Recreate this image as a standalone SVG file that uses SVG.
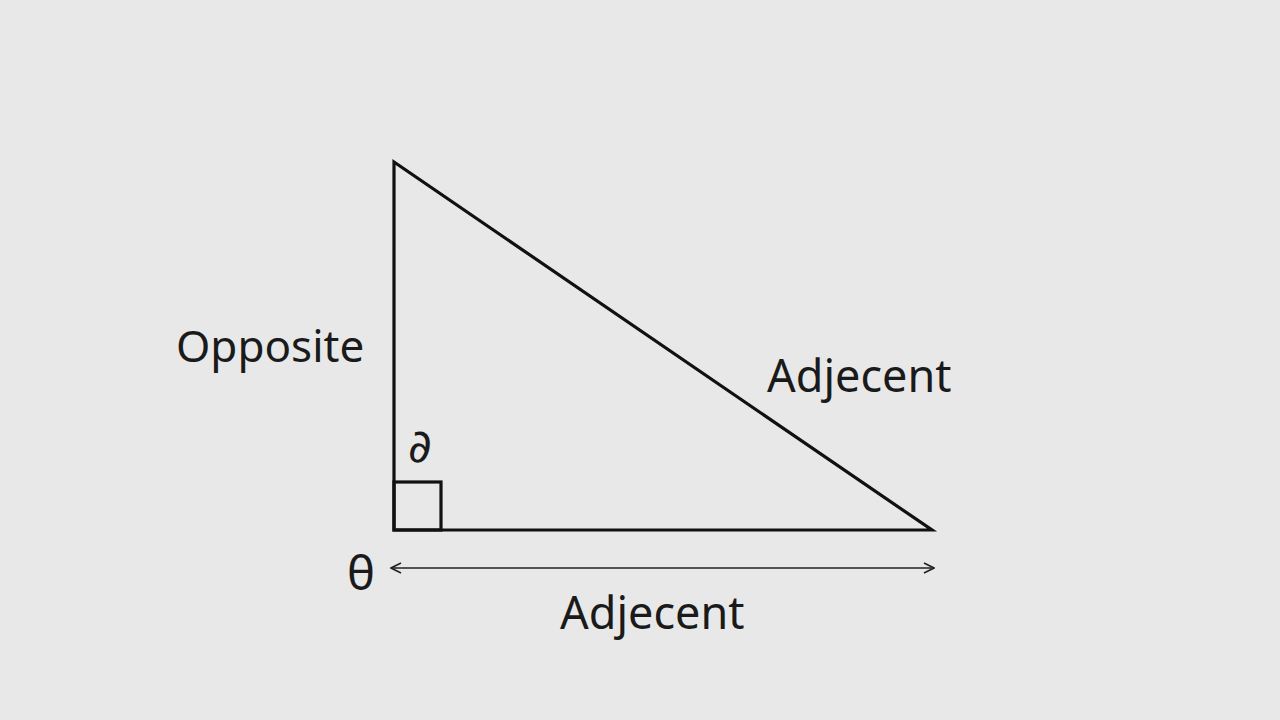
<svg xmlns="http://www.w3.org/2000/svg" width="1280" height="720" viewBox="0 0 1280 720">
<defs>
<style>
.lbl{font-family:"Noto Sans","Open Sans","Liberation Sans",sans-serif;font-size:45px;fill:#1a1a1a}
.sym{font-family:"DejaVu Sans Mono","DejaVu Sans",sans-serif;font-size:46px;fill:#1a1a1a}
.edge{fill:none;stroke:#111;stroke-width:3.2;stroke-linejoin:miter}
.dim{fill:none;stroke:#222;stroke-width:1.6}
</style>
<marker id="ah" viewBox="0 0 12 12" refX="11" refY="6" markerWidth="12" markerHeight="12" markerUnits="userSpaceOnUse" orient="auto-start-reverse">
<path d="M1,1 L11,6 L1,11" fill="none" stroke="#222" stroke-width="1.6"/>
</marker>
</defs>
<rect width="1280" height="720" fill="#e8e8e8"/>
<g id="triangle">
<path class="edge" d="M394,162 L394,530 L932,530 Z"/>
<rect class="edge" x="394" y="482" width="47" height="48" stroke-width="2.5"/>
</g>
<g id="connectors">
<line class="dim" x1="391" y1="568" x2="934" y2="568" marker-start="url(#ah)" marker-end="url(#ah)"/>
</g>
<g id="label-opposite"><text class="lbl" x="176" y="362" style="font-size:44px">Opposite</text></g>
<g id="label-hyp"><text class="lbl" x="767" y="392">Adjecent</text></g>
<g id="label-adj"><text class="lbl" x="560" y="629">Adjecent</text></g>
<g id="label-partial"><text class="sym" x="406" y="462">∂</text></g>
<g id="label-theta"><text class="lbl" x="347" y="590" style="font-size:47px">θ</text></g>
</svg>
